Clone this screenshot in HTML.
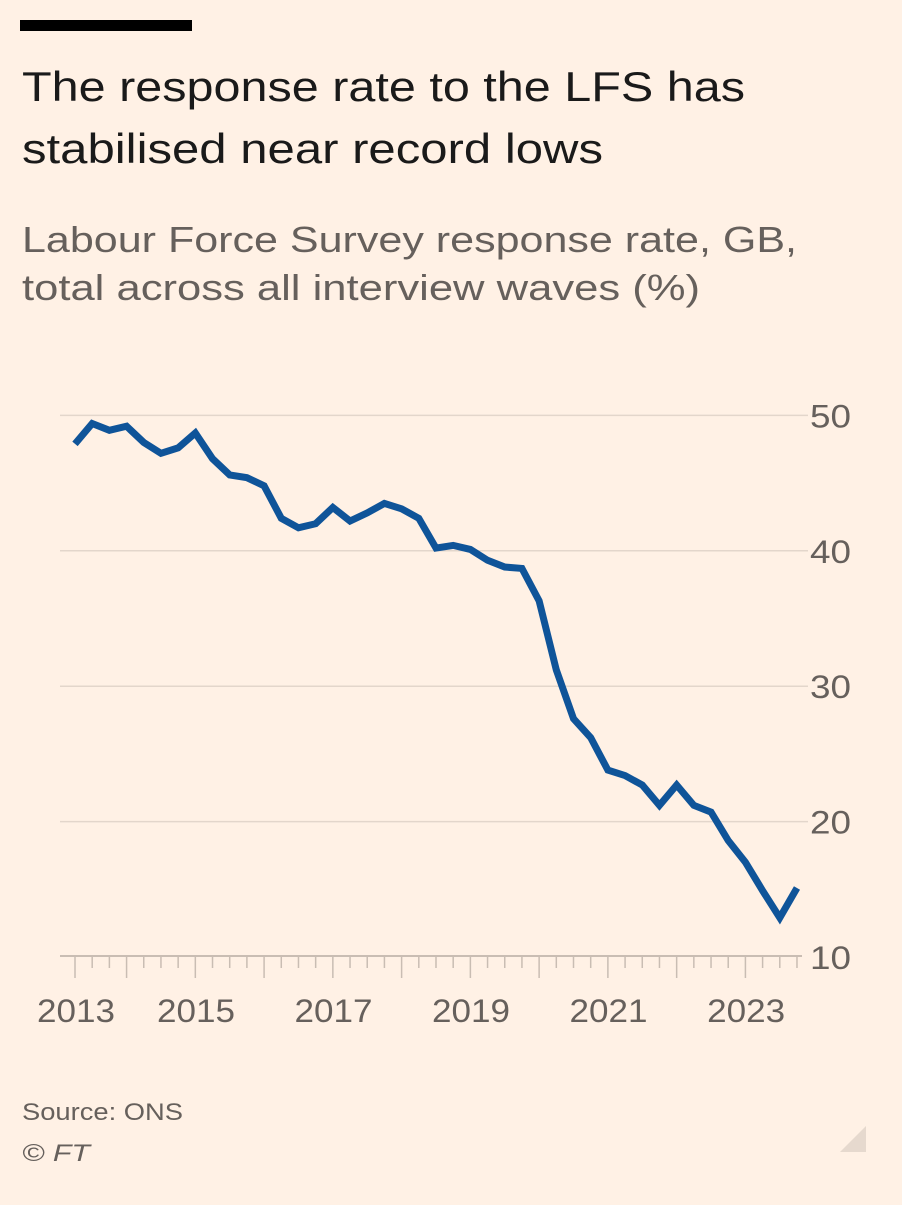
<!DOCTYPE html>
<html><head><meta charset="utf-8"><style>
body{margin:0;background:#fff1e5;width:902px;height:1200px;overflow:hidden;font-family:"Liberation Sans",sans-serif;}
</style></head><body>
<svg width="902" height="1200" xmlns="http://www.w3.org/2000/svg">
<rect x="0" y="0" width="902" height="1200" fill="#fff1e5"/>
<rect x="20" y="20" width="172" height="11" fill="#000"/>
<text x="22" y="101" font-size="42" textLength="723" lengthAdjust="spacingAndGlyphs" fill="#1a1a1a">The response rate to the LFS has</text>
<text x="22" y="163" font-size="42" textLength="581" lengthAdjust="spacingAndGlyphs" fill="#1a1a1a">stabilised near record lows</text>
<text x="22" y="252" font-size="36" textLength="775" lengthAdjust="spacingAndGlyphs" fill="#66605c">Labour Force Survey response rate, GB,</text>
<text x="22" y="300" font-size="36" textLength="678" lengthAdjust="spacingAndGlyphs" fill="#66605c">total across all interview waves (%)</text>
<g id="grid"></g><g id="axis"></g>
<polyline id="line" fill="none" stroke="#0f5499" stroke-width="7" stroke-linejoin="miter"/>
<text x="22" y="1120" font-size="24" textLength="161" lengthAdjust="spacingAndGlyphs" fill="#66605c">Source: ONS</text>
<text x="22" y="1161" font-size="24" font-style="italic" textLength="68" lengthAdjust="spacingAndGlyphs" fill="#66605c">© FT</text>
<polygon points="866,1126 866,1152 840,1152" fill="#e6d9ce"/>
</svg>
<script>
const values=[47.9,49.4,48.9,49.2,48.0,47.2,47.6,48.7,46.8,45.6,45.4,44.8,42.4,41.7,42.0,43.2,42.2,42.8,43.5,43.1,42.4,40.2,40.4,40.1,39.3,38.8,38.7,36.3,31.2,27.6,26.2,23.8,23.4,22.7,21.2,22.7,21.2,20.7,18.6,17.0,14.9,12.9,15.1];
const yTicks=[10,20,30,40,50];
const xLabels=["2013","2015","2017","2019","2021","2023"];
const xLabelYears=[2013.25,2015,2017,2019,2021,2023];
const ns="http://www.w3.org/2000/svg";
const qx=i=>75+i*17.19;
const yx=yr=>196+(yr-2015)*68.76;
const ys=v=>957-(v-10)*13.54;
const grid=document.getElementById('grid'),axis=document.getElementById('axis');
function mk(p,tag,a){const e=document.createElementNS(ns,tag);for(const k in a)e.setAttribute(k,a[k]);p.appendChild(e);return e;}
yTicks.forEach(v=>{
 if(v>10){const l=mk(grid,'line',{x1:60,x2:808,y1:ys(v),y2:ys(v),stroke:'#e3d6cb','stroke-width':1.5});
 
 }
 const t=mk(axis,'text',{x:810,y:ys(v)+12,'font-size':32,textLength:41,lengthAdjust:'spacingAndGlyphs',fill:'#66605c'});t.textContent=v;
 
 
});
const base=mk(axis,'line',{x1:60,x2:802,y1:956,y2:956,stroke:'#c9bdb3','stroke-width':2});


for(let i=0;i<values.length;i++){const x=qx(i);const major=(i%4===3)||i===0;
 const t=mk(axis,'line',{x1:x,x2:x,y1:956,y2:major?978:968,stroke:'#c9bdb3','stroke-width':1.5});
 
 }
xLabels.forEach((s,i)=>{const x=i===0?76:yx(xLabelYears[i]);
 const t=mk(axis,'text',{x:x-39,y:1022,'font-size':32,textLength:78,lengthAdjust:'spacingAndGlyphs',fill:'#66605c'});t.textContent=s;
 
 });
document.getElementById('line').setAttribute('points',values.map((v,i)=>qx(i)+','+ys(v)).join(' '));
</script>
</body></html>
